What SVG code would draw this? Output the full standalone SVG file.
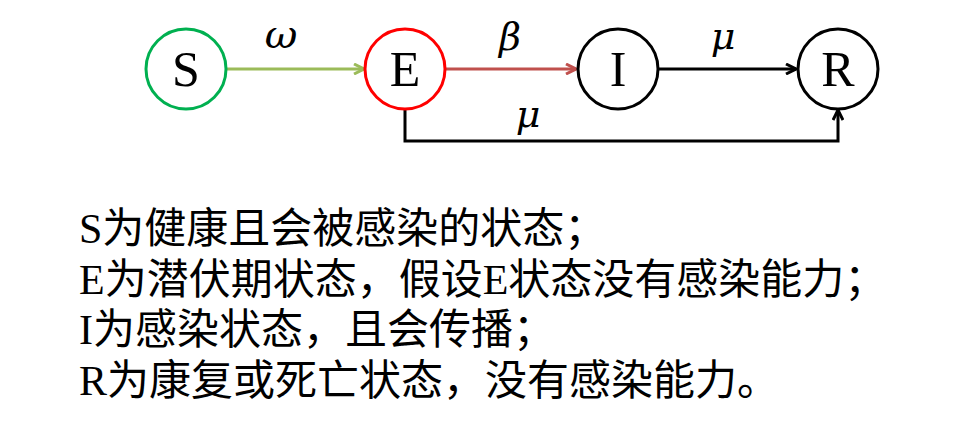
<svg xmlns="http://www.w3.org/2000/svg" width="966" height="433" viewBox="0 0 966 433">
<style>
.node{fill:#fff;stroke-width:3}
.lbl{font-family:"Liberation Serif","Noto Sans CJK SC",serif;font-size:50px;fill:#000;text-anchor:middle}
.greek{font-family:"DejaVu Serif","Liberation Serif",serif;font-style:italic;font-size:38px;fill:#000;text-anchor:middle}
.desc{font-family:"Liberation Serif","Noto Sans CJK SC",serif;font-size:42px;fill:#000}
.edge{fill:none;stroke-width:3}
</style>
<defs>
<marker id="ag" viewBox="0 0 12 12" refX="11" refY="6" markerWidth="12" markerHeight="12" markerUnits="userSpaceOnUse" orient="auto"><path d="M1,1 L11,6 L1,11" fill="none" stroke="#9bbb59" stroke-width="3"/></marker>
<marker id="ar" viewBox="0 0 12 12" refX="11" refY="6" markerWidth="12" markerHeight="12" markerUnits="userSpaceOnUse" orient="auto"><path d="M1,1 L11,6 L1,11" fill="none" stroke="#c0504d" stroke-width="3"/></marker>
<marker id="ak" viewBox="0 0 12 12" refX="11" refY="6" markerWidth="12" markerHeight="12" markerUnits="userSpaceOnUse" orient="auto"><path d="M1,1 L11,6 L1,11" fill="none" stroke="#000" stroke-width="3"/></marker>
</defs>
<g id="connectors">
<line class="edge" x1="227" y1="69" x2="364" y2="69" stroke="#9bbb59" marker-end="url(#ag)"/>
<line class="edge" x1="446" y1="69" x2="576" y2="69" stroke="#c0504d" marker-end="url(#ar)"/>
<line class="edge" x1="659" y1="69" x2="796" y2="69" stroke="#000" marker-end="url(#ak)"/>
<polyline class="edge" points="405,109 405,141 838,141 838,110" stroke="#000" marker-end="url(#ak)"/>
<text class="greek" x="281" y="48" style="font-size:40px">ω</text>
<text class="greek" x="510" y="50">β</text>
<text class="greek" x="723" y="49">μ</text>
<text class="greek" x="528" y="127">μ</text>
</g>
<g id="S"><circle class="node" cx="186" cy="69" r="40" stroke="#00b050"/><text class="lbl" x="186" y="86">S</text></g>
<g id="E"><circle class="node" cx="405" cy="69" r="40" stroke="#ff0000"/><text class="lbl" x="405" y="86">E</text></g>
<g id="I"><circle class="node" cx="618" cy="69" r="40" stroke="#000"/><text class="lbl" x="618" y="86">I</text></g>
<g id="R"><circle class="node" cx="838" cy="69" r="40" stroke="#000"/><text class="lbl" x="838" y="86">R</text></g>
<g id="description">
<text class="desc" x="79" y="243">S为健康且会被感染的状态；</text>
<text class="desc" x="79" y="294">E为潜伏期状态，假设E状态没有感染能力；</text>
<text class="desc" x="79" y="344">I为感染状态，且会传播；</text>
<text class="desc" x="79" y="395">R为康复或死亡状态，没有感染能力。</text>
</g>
</svg>
